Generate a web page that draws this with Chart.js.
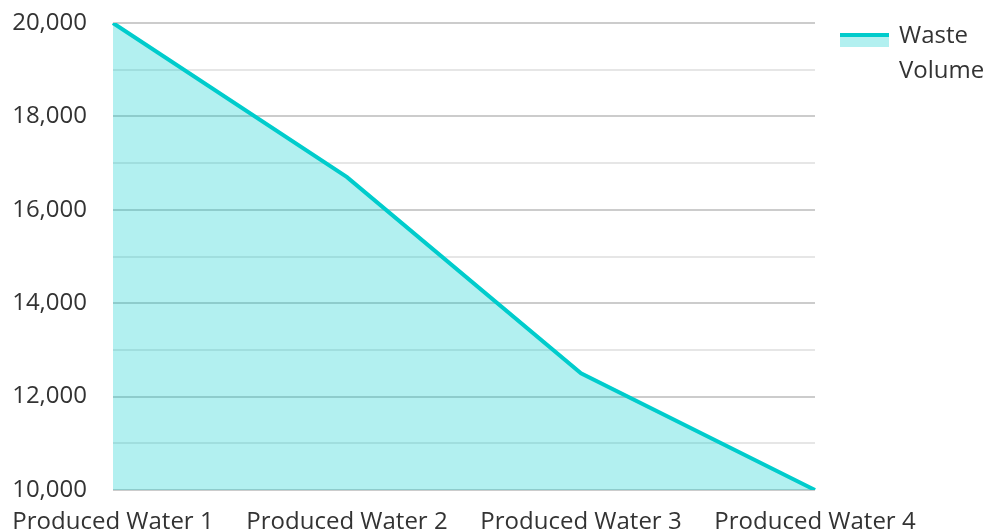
<!DOCTYPE html>
<html>
<head>
<meta charset="utf-8">
<script src="https://cdn.jsdelivr.net/npm/chart.js@4/dist/chart.umd.min.js"></script>
<style>
  html, body { margin: 0; padding: 0; background: #fff; }
  #wrap { width: 989px; height: 531px; position: relative; }
</style>
</head>
<body>
<div id="wrap"><canvas id="chart"></canvas></div>
<script>
// Waste volume per produced-water stream
const categories = ['Produced Water 1', 'Produced Water 2', 'Produced Water 3', 'Produced Water 4'];
const wasteVolume = [20000, 16700, 12500, 10000];
const seriesName = ['Waste', 'Volume'];

const LINE = '#00cccc';
const FILL = 'rgba(0, 204, 204, 0.3)';
const TEXT = '#333333';
const FONT = "'Open Sans', sans-serif";
const SIZE = 24;

// Legend drawn on the canvas so the series name can wrap over two lines
const wrappedLegend = {
  id: 'wrappedLegend',
  afterDraw(chart) {
    const ctx = chart.ctx;
    const x0 = 840;
    const y0 = 35;
    ctx.save();
    ctx.fillStyle = FILL;
    ctx.fillRect(x0, y0, 49, 12);
    ctx.strokeStyle = LINE;
    ctx.lineWidth = 4;
    ctx.beginPath();
    ctx.moveTo(x0, y0);
    ctx.lineTo(x0 + 49, y0);
    ctx.stroke();
    ctx.fillStyle = TEXT;
    ctx.font = SIZE + 'px ' + FONT;
    ctx.textBaseline = 'middle';
    ctx.textAlign = 'left';
    seriesName.forEach((t, i) => ctx.fillText(t, x0 + 59, y0 + 1 + i * 35));
    ctx.restore();
  }
};

new Chart(document.getElementById('chart'), {
  type: 'line',
  data: {
    labels: categories,
    datasets: [{
      label: seriesName.join(' '),
      data: wasteVolume,
      borderColor: LINE,
      backgroundColor: FILL,
      borderWidth: 4,
      fill: 'origin',
      tension: 0,
      pointRadius: 0,
      pointHoverRadius: 0
    }]
  },
  options: {
    responsive: true,
    maintainAspectRatio: false,
    animation: false,
    layout: { padding: { top: 23, right: 174, left: 0, bottom: 0 } },
    plugins: { legend: { display: false }, tooltip: { enabled: false } },
    scales: {
      x: {
        grid: { display: false },
        border: { display: false },
        ticks: { color: TEXT, font: { family: FONT, size: SIZE }, padding: 10, maxRotation: 0, autoSkip: false },
        afterFit(scale) { scale.height = 41; scale.paddingLeft = 0; scale.paddingRight = 0; }
      },
      y: {
        min: 10000,
        max: 20000,
        border: { display: false },
        grid: {
          drawTicks: false,
          color: ctx => (ctx.tick && ctx.tick.value % 2000 === 0) ? '#cccccc' : '#e6e6e6',
          lineWidth: 2
        },
        ticks: {
          stepSize: 1000,
          color: TEXT,
          font: { family: FONT, size: SIZE },
          padding: 26,
          callback: v => (v % 2000 === 0 ? v.toLocaleString('en-US') : '')
        },
        afterFit(scale) { scale.width = 113; scale.paddingTop = 0; scale.paddingBottom = 0; }
      }
    }
  },
  plugins: [wrappedLegend]
});
</script>
</body>
</html>
